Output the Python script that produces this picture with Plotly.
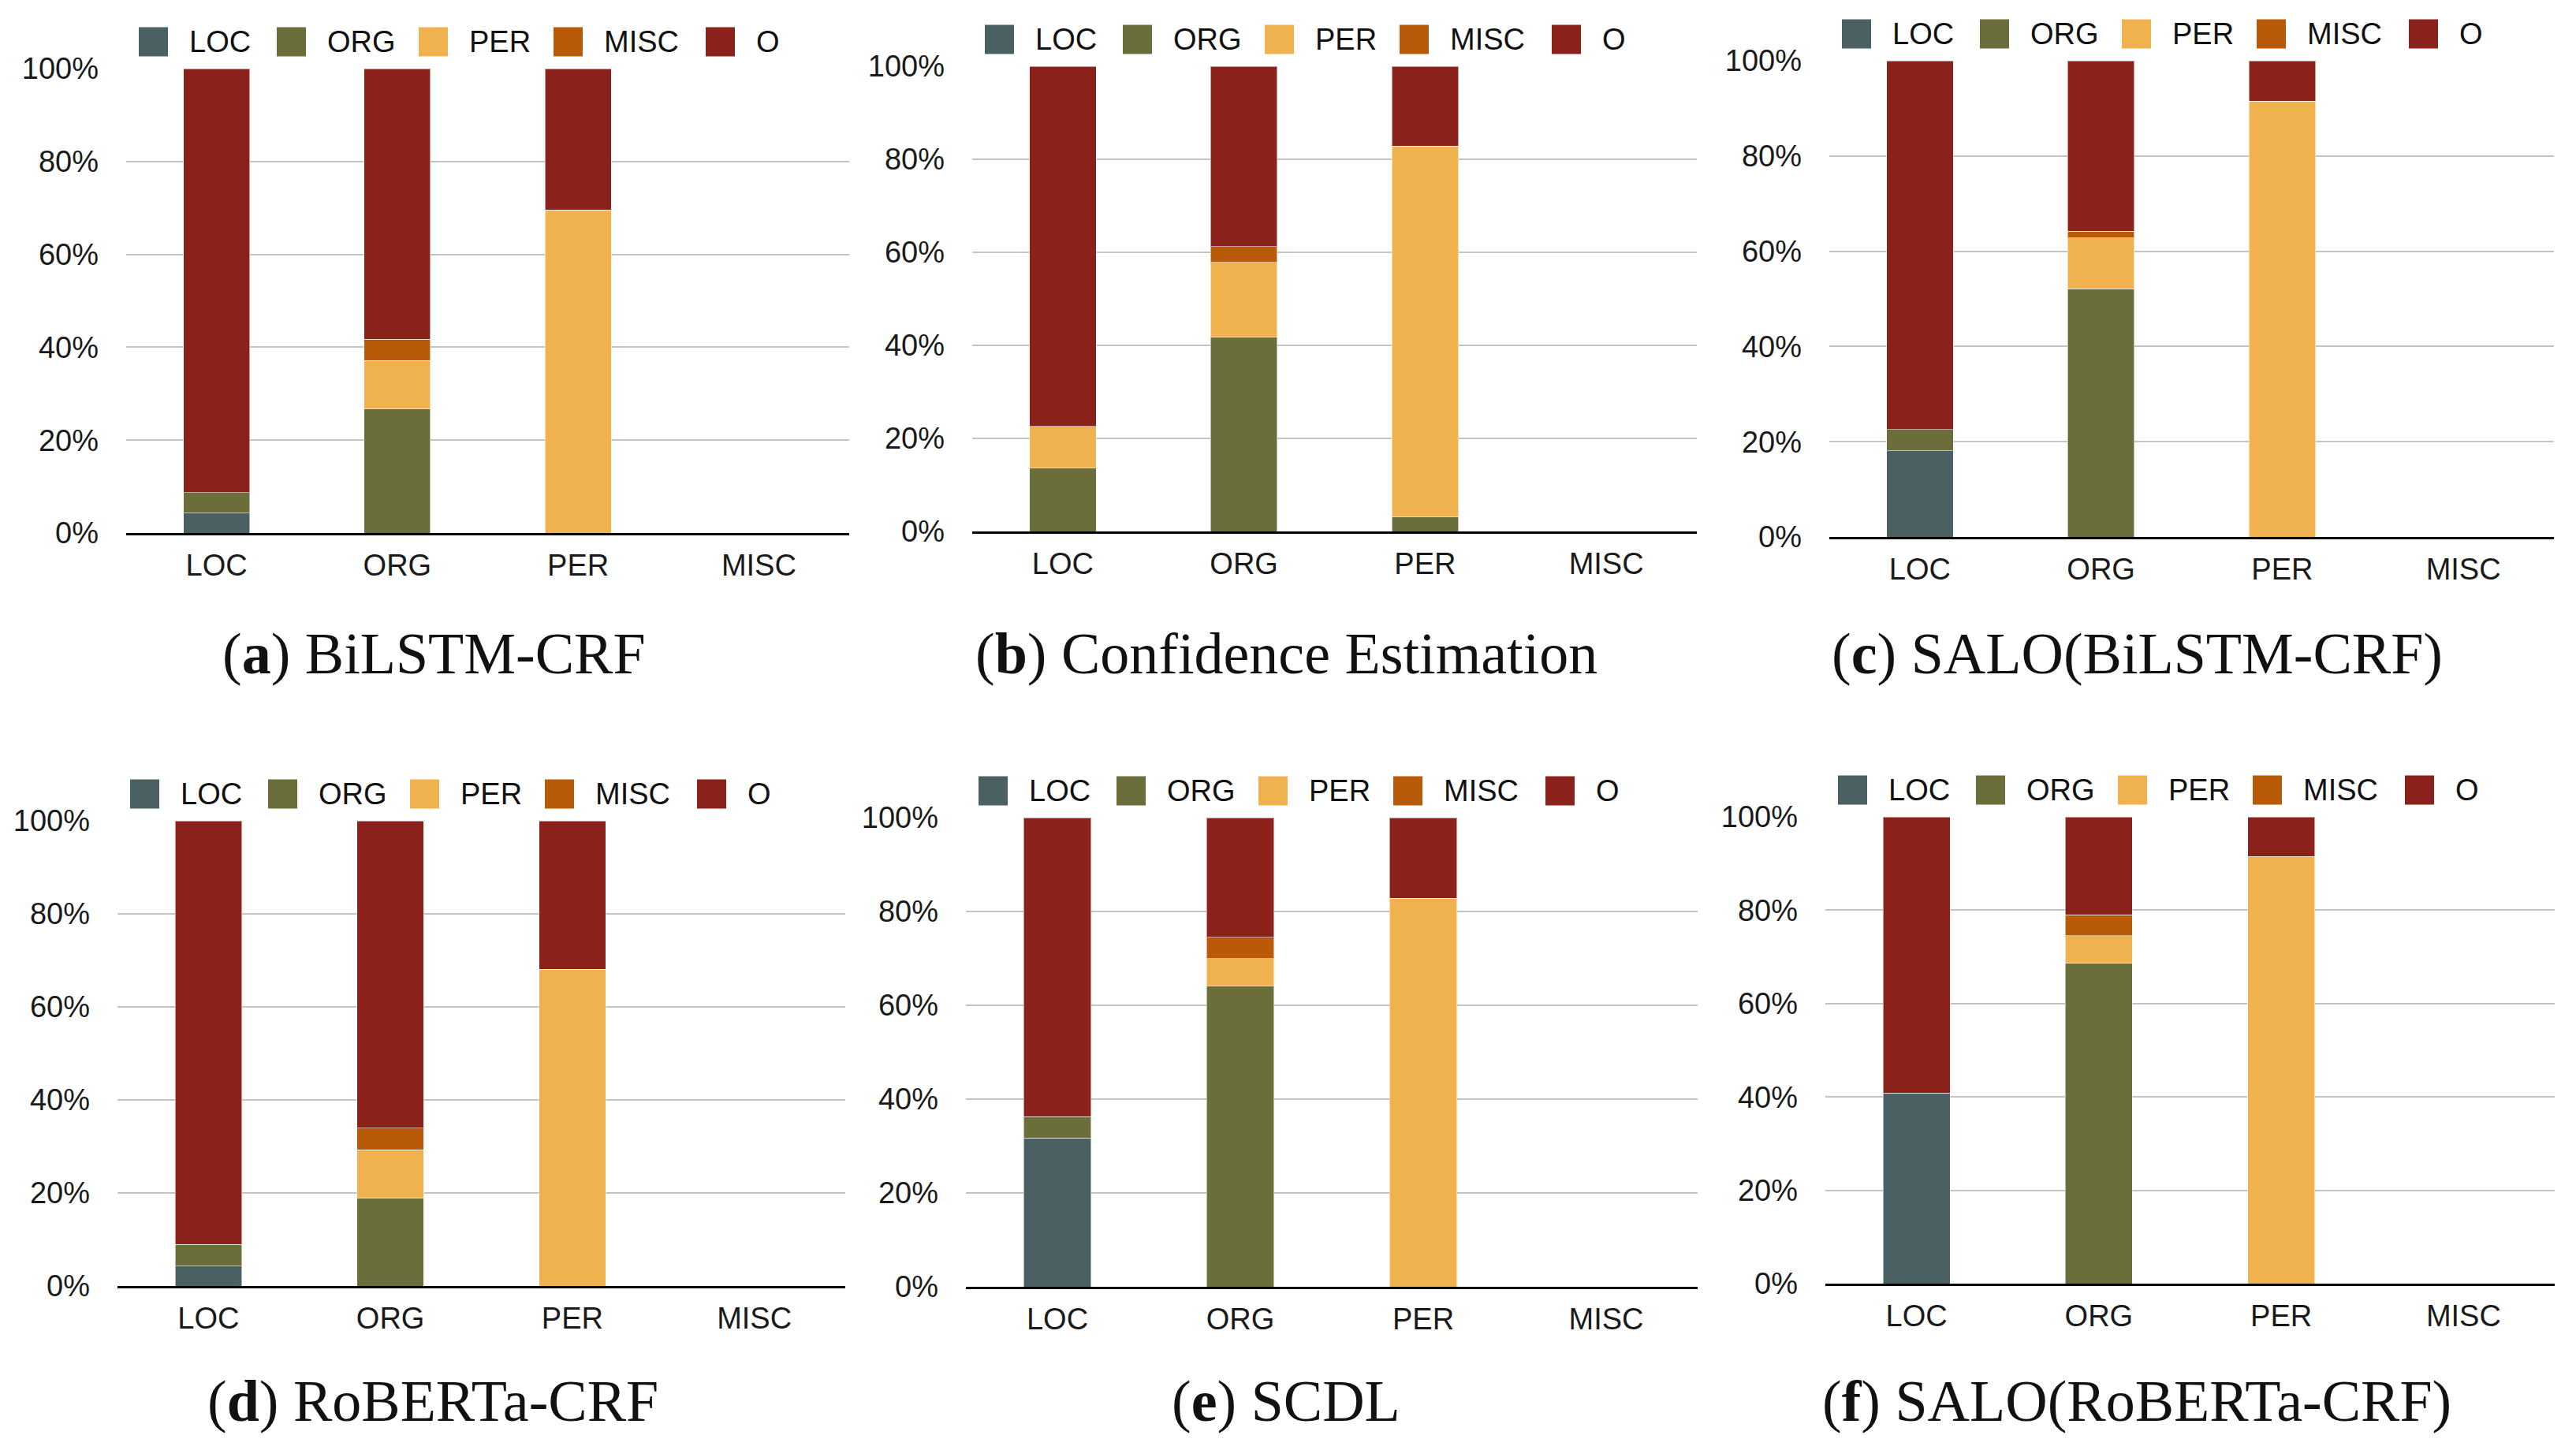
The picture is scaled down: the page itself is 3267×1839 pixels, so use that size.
import plotly.graph_objects as go

W, H = 3267, 1839
OFF = 8  # page body margin in the browser

categories = ["LOC", "ORG", "PER", "MISC"]
labels = ["LOC", "ORG", "PER", "MISC", "O"]
colors = ["#4a6062", "#6b6e3a", "#efb24f", "#b85a08", "#8a221b"]

# rows: predicted LOC, ORG, PER, MISC, O  (percent per true category)
bilstm_crf = [
    [4.3, 0.0, 0.0, 0.0],
    [4.4, 26.7, 0.0, 0.0],
    [0.0, 10.4, 69.6, 0.0],
    [0.0, 4.6, 0.0, 0.0],
    [91.3, 58.3, 30.4, 0.0],
]
confidence_est = [
    [0.0, 0.0, 0.0, 0.0],
    [13.6, 41.7, 3.1, 0.0],
    [9.0, 16.1, 79.7, 0.0],
    [0.0, 3.4, 0.0, 0.0],
    [77.4, 38.8, 17.2, 0.0],
]
salo_bilstm = [
    [18.1, 0.0, 0.0, 0.0],
    [4.5, 52.1, 0.0, 0.0],
    [0.0, 10.7, 91.5, 0.0],
    [0.0, 1.4, 0.0, 0.0],
    [77.4, 35.8, 8.5, 0.0],
]
roberta_crf = [
    [4.3, 0.0, 0.0, 0.0],
    [4.6, 18.9, 0.0, 0.0],
    [0.0, 10.4, 68.1, 0.0],
    [0.0, 4.6, 0.0, 0.0],
    [91.1, 66.1, 31.9, 0.0],
]
scdl = [
    [31.7, 0.0, 0.0, 0.0],
    [4.6, 64.1, 0.0, 0.0],
    [0.0, 5.9, 82.8, 0.0],
    [0.0, 4.5, 0.0, 0.0],
    [63.7, 25.5, 17.2, 0.0],
]
salo_roberta = [
    [40.8, 0.0, 0.0, 0.0],
    [0.0, 68.7, 0.0, 0.0],
    [0.0, 5.8, 91.5, 0.0],
    [0.0, 4.5, 0.0, 0.0],
    [59.2, 21.0, 8.5, 0.0],
]

panels = [
    ("a", "BiLSTM-CRF", bilstm_crf),
    ("b", "Confidence Estimation", confidence_est),
    ("c", "SALO(BiLSTM-CRF)", salo_bilstm),
    ("d", "RoBERTa-CRF", roberta_crf),
    ("e", "SCDL", scdl),
    ("f", "SALO(RoBERTa-CRF)", salo_roberta),
]

# plot boxes in pixels: x0, x1, ytop, ybottom
boxes = [
    (160, 1077, 87, 676),
    (1233, 2152, 84, 674),
    (2320, 3239, 77, 681),
    (149, 1072, 1041, 1631),
    (1225, 2153, 1037, 1632),
    (2315, 3240, 1036, 1628),
]
captions_xy = [(550, 829), (1631, 829), (2710, 829), (549, 1777), (1631, 1777), (2710, 1777)]


def px(x):
    return (x - OFF) / W


def py(y):
    return 1 - (y - OFF) / H


tick_font = dict(family="Liberation Sans, Arial, sans-serif", size=38, color="#1a1a1a")

fig = go.Figure()
shapes = []
annotations = []

for i, (letter, name, data) in enumerate(panels):
    n = "" if i == 0 else str(i + 1)
    x0, x1, yt, yb = boxes[i]
    for j, lab in enumerate(labels):
        vals = [v if v else None for v in data[j]]
        fig.add_trace(go.Bar(
            x=categories, y=vals, name=lab,
            marker=dict(color=colors[j], line=dict(color="rgba(255,255,255,0.55)", width=1)),
            xaxis="x" + n, yaxis="y" + n, showlegend=False,
        ))
    fig.layout["xaxis" + n] = dict(
        domain=[px(x0), px(x1)], anchor="y" + n, automargin=False,
        showline=True, linecolor="#000000", linewidth=3,
        showgrid=False, ticks="", tickfont=tick_font, ticklabelstandoff=5,
    )
    fig.layout["yaxis" + n] = dict(
        domain=[py(yb), py(yt)], anchor="x" + n, automargin=False,
        range=[0, 100], dtick=20, ticksuffix="%",
        showgrid=True, gridcolor="#c4c4c4", gridwidth=2.2,
        zeroline=False, showline=False, ticks="",
        tickfont=tick_font, ticklabelstandoff=34,
    )

    # legend drawn above each panel
    sw_off = [16, 191, 371, 542, 735]
    ly = yt - 34
    for j, lab in enumerate(labels):
        sx = x0 + sw_off[j]
        shapes.append(dict(
            type="rect", xref="paper", yref="paper",
            x0=px(sx), x1=px(sx + 37),
            y0=py(ly + 18.5), y1=py(ly - 18.5),
            fillcolor=colors[j], line=dict(width=0),
        ))
        annotations.append(dict(
            x=px(sx + 62), y=py(ly), xref="paper", yref="paper",
            text=lab, showarrow=False, xanchor="left", yanchor="middle",
            font=dict(family="Liberation Sans, Arial, sans-serif", size=38, color="#111111"),
        ))

    cx, cy = captions_xy[i]
    annotations.append(dict(
        x=px(cx), y=py(cy), xref="paper", yref="paper",
        text="(<b>%s</b>) %s" % (letter, name), showarrow=False,
        xanchor="center", yanchor="middle",
        font=dict(family="Liberation Serif, Times New Roman, serif", size=74, color="#111111"),
    ))

fig.update_layout(
    width=W, height=H, barmode="stack", bargap=0.633,
    margin=dict(l=0, r=0, t=0, b=0, autoexpand=False),
    paper_bgcolor="white", plot_bgcolor="white",
    shapes=shapes, annotations=annotations,
)

fig.write_html("out.html")
